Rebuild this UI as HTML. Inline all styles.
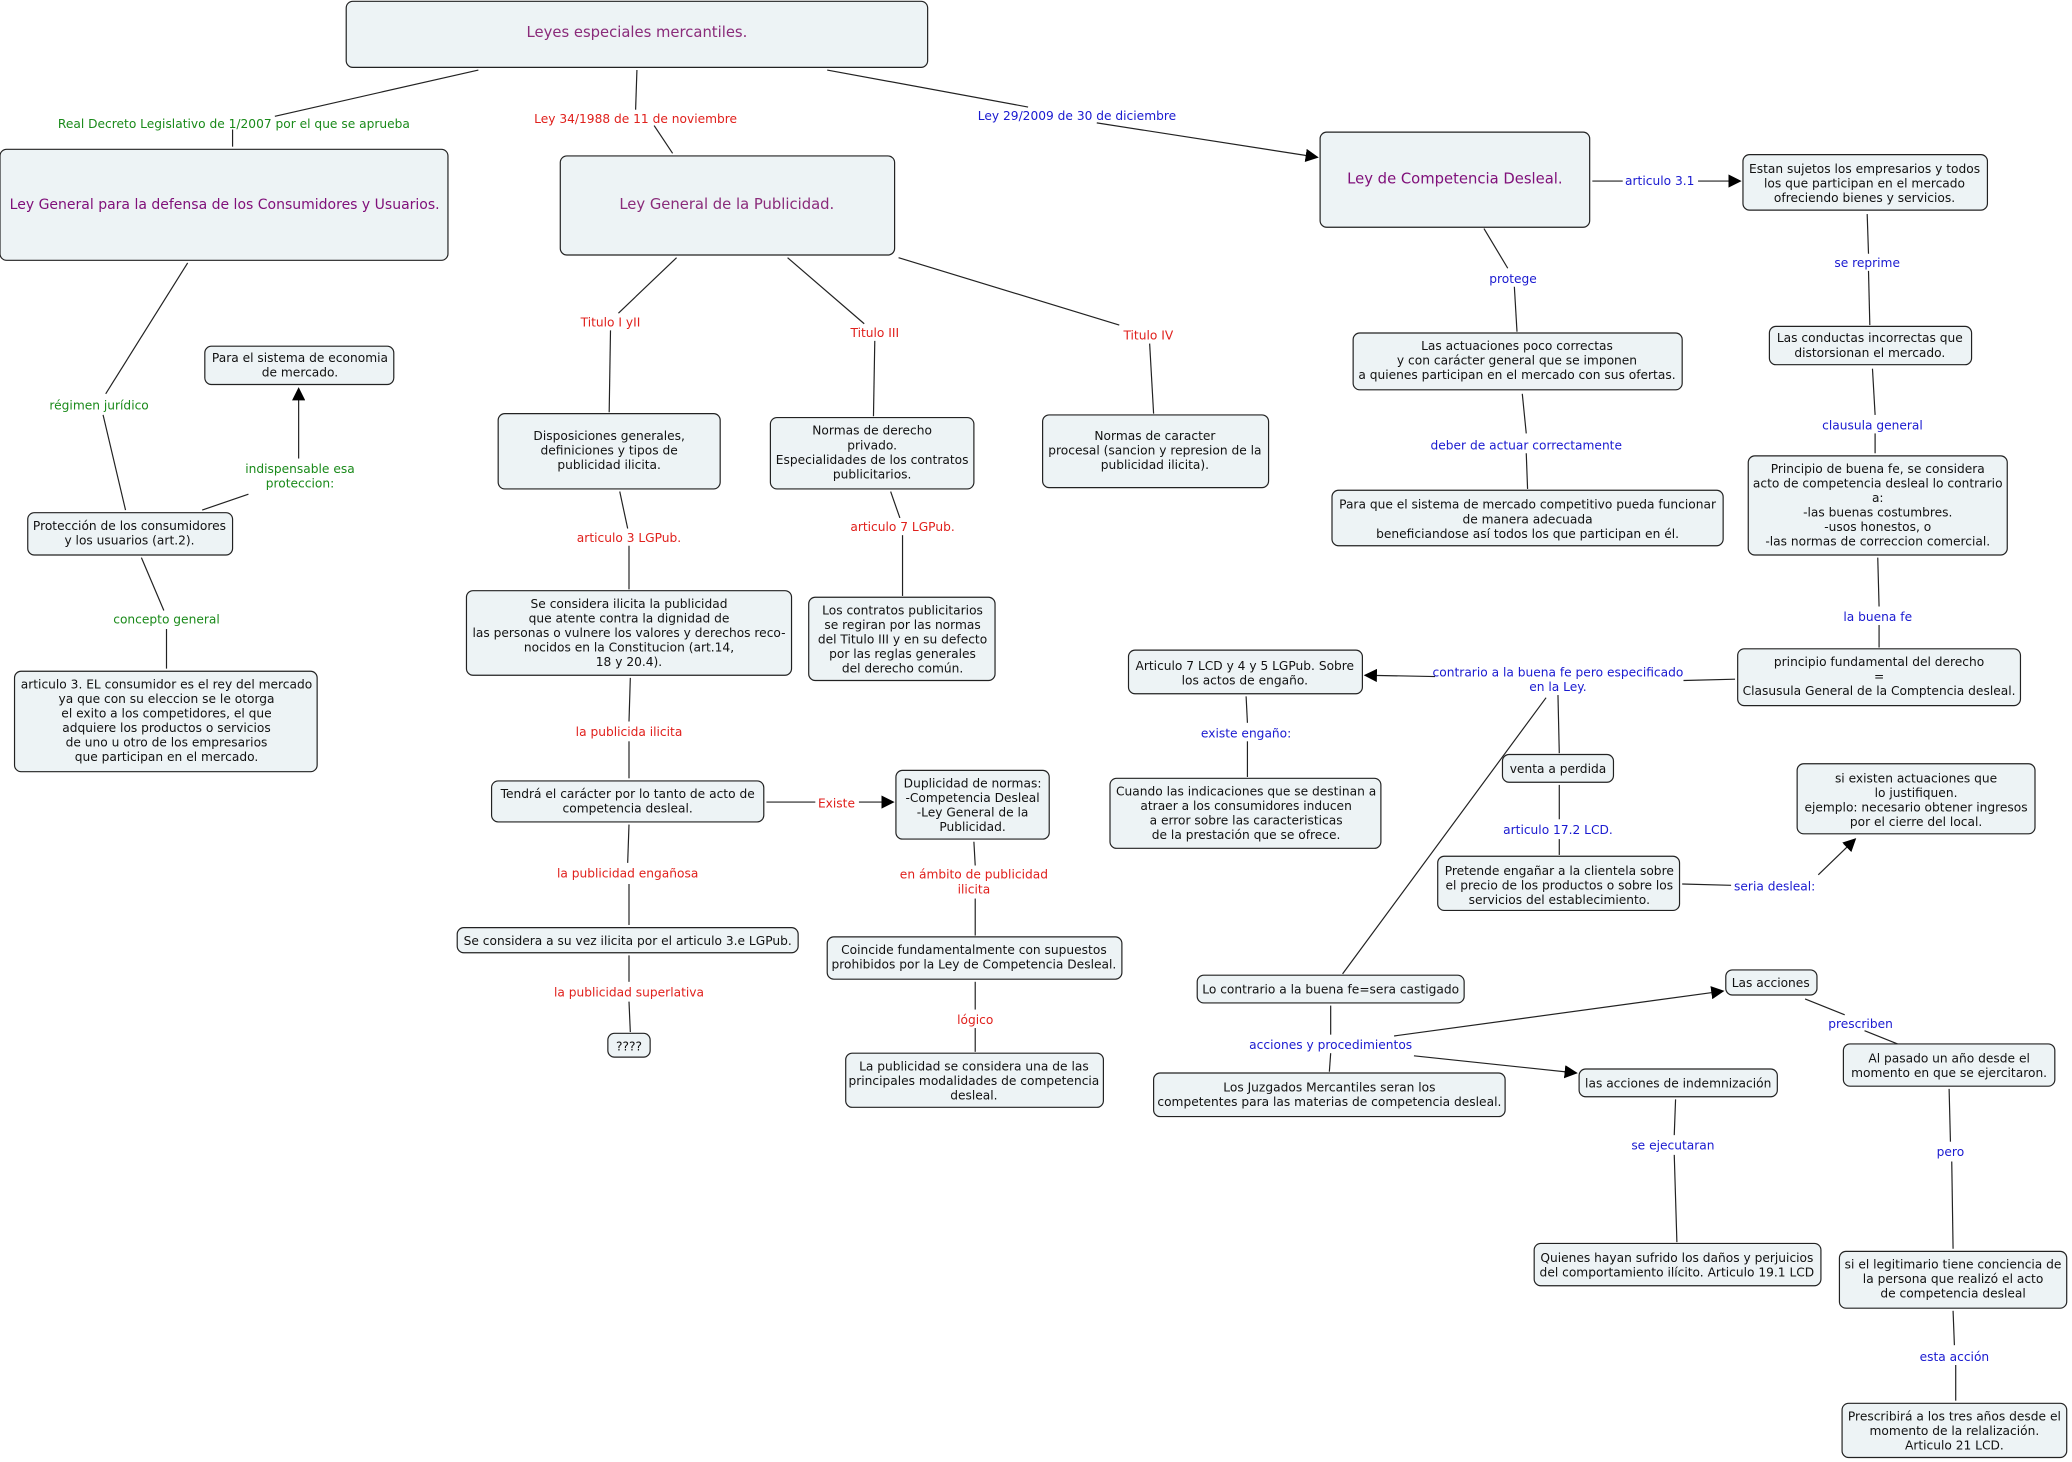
<!DOCTYPE html>
<html><head><meta charset="utf-8"><style>
html,body{margin:0;padding:0;background:#fff;}
svg{display:block}
.n{fill:#edf3f5;stroke:#222;stroke-width:0.9}
.t{font-family:"DejaVu Sans","Liberation Sans",sans-serif;font-size:9.25px;fill:#111;text-anchor:middle}
.g{font-family:"DejaVu Sans","Liberation Sans",sans-serif;font-size:9.25px;fill:#1a8a1a;text-anchor:middle}
.r{font-family:"DejaVu Sans","Liberation Sans",sans-serif;font-size:9.25px;fill:#e0201c;text-anchor:middle}
.b{font-family:"DejaVu Sans","Liberation Sans",sans-serif;font-size:9.25px;fill:#1a1ad0;text-anchor:middle}
.h{font-family:"DejaVu Sans","Liberation Sans",sans-serif;font-size:11.2px;fill:#8a2b7a;text-anchor:middle}
line{stroke:#222;stroke-width:0.9}
</style></head><body>
<svg width="2072" height="1462" viewBox="0 0 1568 1106.4" preserveAspectRatio="none" xmlns="http://www.w3.org/2000/svg">
<defs><marker id="a" markerWidth="10" markerHeight="10" refX="9" refY="5" orient="auto" markerUnits="userSpaceOnUse"><path d="M0,0 L10,5 L0,10 z" fill="#000"/></marker></defs>
<!-- lines -->
<line x1="362" y1="53" x2="208" y2="88"/><line x1="176" y1="98" x2="176" y2="111"/>
<line x1="482" y1="53" x2="481" y2="83"/><line x1="495" y1="95" x2="509" y2="116"/>
<line x1="626" y1="53" x2="778" y2="81"/><line x1="830" y1="93" x2="997" y2="119" marker-end="url(#a)"/>
<line x1="142" y1="199" x2="80" y2="298"/><line x1="78" y1="314" x2="95" y2="386"/>
<line x1="153" y1="386" x2="188" y2="374"/><line x1="226" y1="347" x2="226" y2="294" marker-end="url(#a)"/>
<line x1="107" y1="422" x2="124" y2="462"/><line x1="126" y1="476" x2="126" y2="506"/>
<line x1="512" y1="195" x2="468" y2="237"/><line x1="462" y1="250" x2="461" y2="312"/>
<line x1="596" y1="195" x2="654" y2="245"/><line x1="662" y1="258" x2="661" y2="315"/>
<line x1="680" y1="195" x2="847" y2="246"/><line x1="870" y1="260" x2="873" y2="313"/>
<line x1="469" y1="372" x2="475" y2="400"/><line x1="476" y1="413" x2="476" y2="446"/>
<line x1="674" y1="372" x2="681" y2="392"/><line x1="683" y1="405" x2="683" y2="451"/>
<line x1="477" y1="513" x2="476" y2="546"/><line x1="476" y1="561" x2="476" y2="589"/>
<line x1="580" y1="607" x2="617" y2="607"/><line x1="650" y1="607" x2="676" y2="607" marker-end="url(#a)"/>
<line x1="476" y1="624" x2="475" y2="653"/><line x1="476" y1="669" x2="476" y2="700"/>
<line x1="476" y1="723" x2="476" y2="743"/><line x1="476" y1="758" x2="477" y2="781"/>
<line x1="737" y1="637" x2="738" y2="655"/><line x1="738" y1="680" x2="738" y2="708"/>
<line x1="738" y1="743" x2="738" y2="764"/><line x1="738" y1="778" x2="738" y2="796"/>
<line x1="1205" y1="137" x2="1228" y2="137"/><line x1="1285" y1="137" x2="1317" y2="137" marker-end="url(#a)"/>
<line x1="1123" y1="173" x2="1141" y2="203"/><line x1="1146" y1="217" x2="1148" y2="251"/>
<line x1="1413" y1="162" x2="1414" y2="192"/><line x1="1414" y1="205" x2="1415" y2="246"/>
<line x1="1152" y1="298" x2="1155" y2="328"/><line x1="1155" y1="343" x2="1156" y2="370"/>
<line x1="1417" y1="279" x2="1419" y2="314"/><line x1="1419" y1="328" x2="1419" y2="343"/>
<line x1="1421" y1="422" x2="1422" y2="459"/><line x1="1422" y1="473" x2="1422" y2="490"/>
<line x1="1313" y1="514" x2="1274" y2="515"/><line x1="1086" y1="512" x2="1033" y2="511" marker-end="url(#a)"/>
<line x1="1179" y1="526" x2="1180" y2="570"/>
<line x1="1170" y1="528" x2="1016" y2="737"/>
<line x1="943" y1="527" x2="944" y2="547"/><line x1="944" y1="561" x2="944" y2="588"/>
<line x1="1180" y1="594" x2="1180" y2="620"/><line x1="1180" y1="635" x2="1180" y2="647"/>
<line x1="1273" y1="669" x2="1310" y2="670"/><line x1="1376" y1="662" x2="1404" y2="635" marker-end="url(#a)"/>
<line x1="1007" y1="761" x2="1007" y2="783"/><line x1="1007" y1="797" x2="1006" y2="811"/>
<line x1="1055" y1="784" x2="1304" y2="750" marker-end="url(#a)"/>
<line x1="1070" y1="799" x2="1193" y2="812" marker-end="url(#a)"/>
<line x1="1366" y1="756" x2="1396" y2="768"/><line x1="1411" y1="780" x2="1436" y2="790"/>
<line x1="1475" y1="824" x2="1476" y2="864"/><line x1="1477" y1="879" x2="1478" y2="945"/>
<line x1="1268" y1="832" x2="1267" y2="859"/><line x1="1267" y1="874" x2="1269" y2="940"/>
<line x1="1478" y1="992" x2="1479" y2="1018"/><line x1="1480" y1="1033" x2="1480" y2="1060"/>

<!-- nodes -->
<rect class="n" x="262" y="1" width="440" height="50" rx="5"/><text class="h" x="482" y="28">Leyes especiales mercantiles.</text>
<rect class="n" x="0" y="113" width="339" height="84" rx="5"/><text class="h" x="170" y="158" style="fill:#80107a;font-size:10.6px">Ley General para la defensa de los Consumidores y Usuarios.</text>
<rect class="n" x="424" y="118" width="253" height="75" rx="5"/><text class="h" x="550" y="158">Ley General de la Publicidad.</text>
<rect class="n" x="999" y="100" width="204" height="72" rx="5"/><text class="h" x="1101" y="139" style="fill:#80107a">Ley de Competencia Desleal.</text>

<rect class="n" x="1319" y="117" width="185" height="42" rx="5"/><text class="t" x="1411" y="131">Estan sujetos los empresarios y todos<tspan x="1411" dy="11">los que participan en el mercado</tspan><tspan x="1411" dy="11">ofreciendo bienes y servicios.</tspan></text>
<rect class="n" x="1339" y="247" width="153" height="29" rx="5"/><text class="t" x="1415" y="259">Las conductas incorrectas que<tspan x="1415" dy="11">distorsionan el mercado.</tspan></text>
<rect class="n" x="1323" y="345" width="196" height="75" rx="5"/><text class="t" x="1421" y="358">Principio de buena fe, se considera<tspan x="1421" dy="11">acto de competencia desleal lo contrario</tspan><tspan x="1421" dy="11">a:</tspan><tspan x="1421" dy="11">-las buenas costumbres.</tspan><tspan x="1421" dy="11">-usos honestos, o</tspan><tspan x="1421" dy="11">-las normas de correccion comercial.</tspan></text>
<rect class="n" x="1315" y="491" width="214" height="43" rx="5"/><text class="t" x="1422" y="504">principio fundamental del derecho<tspan x="1422" dy="11">=</tspan><tspan x="1422" dy="11">Clasusula General de la Comptencia desleal.</tspan></text>
<rect class="n" x="854" y="492" width="177" height="33" rx="5"/><text class="t" x="942" y="507">Articulo 7 LCD y 4 y 5 LGPub. Sobre<tspan x="942" dy="11">los actos de engaño.</tspan></text>
<rect class="n" x="840" y="589" width="205" height="53" rx="5"/><text class="t" x="943" y="602">Cuando las indicaciones que se destinan a<tspan x="943" dy="11">atraer a los consumidores inducen</tspan><tspan x="943" dy="11">a error sobre las caracteristicas</tspan><tspan x="943" dy="11">de la prestación que se ofrece.</tspan></text>
<rect class="n" x="1137" y="571" width="84" height="21" rx="5"/><text class="t" x="1179" y="585">venta a perdida</text>
<rect class="n" x="1360" y="578" width="180" height="53" rx="5"/><text class="t" x="1450" y="592">si existen actuaciones que<tspan x="1450" dy="11">lo justifiquen.</tspan><tspan x="1450" dy="11">ejemplo: necesario obtener ingresos</tspan><tspan x="1450" dy="11">por el cierre del local.</tspan></text>
<rect class="n" x="1088" y="648" width="183" height="41" rx="5"/><text class="t" x="1180" y="662">Pretende engañar a la clientela sobre<tspan x="1180" dy="11">el precio de los productos o sobre los</tspan><tspan x="1180" dy="11">servicios del establecimiento.</tspan></text>
<rect class="n" x="906" y="738" width="202" height="21" rx="5"/><text class="t" x="1007" y="752">Lo contrario a la buena fe=sera castigado</text>
<rect class="n" x="1306" y="734" width="69" height="19" rx="5"/><text class="t" x="1340" y="747">Las acciones</text>
<rect class="n" x="1395" y="790" width="160" height="32" rx="5"/><text class="t" x="1475" y="804">Al pasado un año desde el<tspan x="1475" dy="11">momento en que se ejercitaron.</tspan></text>
<rect class="n" x="873" y="812" width="266" height="33" rx="5"/><text class="t" x="1006" y="826">Los Juzgados Mercantiles seran los<tspan x="1006" dy="11">competentes para las materias de competencia desleal.</tspan></text>
<rect class="n" x="1195" y="809" width="150" height="21" rx="5"/><text class="t" x="1270" y="823">las acciones de indemnización</text>
<rect class="n" x="1161" y="941" width="217" height="32" rx="5"/><text class="t" x="1269" y="955">Quienes hayan sufrido los daños y perjuicios<tspan x="1269" dy="11">del comportamiento ilícito. Articulo 19.1 LCD</tspan></text>
<rect class="n" x="1392" y="947" width="172" height="43" rx="5"/><text class="t" x="1478" y="960">si el legitimario tiene conciencia de<tspan x="1478" dy="11">la persona que realizó el acto</tspan><tspan x="1478" dy="11">de competencia desleal</tspan></text>
<rect class="n" x="1394" y="1062" width="170" height="41" rx="5"/><text class="t" x="1479" y="1075">Prescribirá a los tres años desde el<tspan x="1479" dy="11">momento de la relalización.</tspan><tspan x="1479" dy="11">Articulo 21 LCD.</tspan></text>
<rect class="n" x="1024" y="252" width="249" height="43" rx="5"/><text class="t" x="1148" y="265">Las actuaciones poco correctas<tspan x="1148" dy="11">y con carácter general que se imponen</tspan><tspan x="1148" dy="11">a quienes participan en el mercado con sus ofertas.</tspan></text>
<rect class="n" x="1008" y="371" width="296" height="42" rx="5"/><text class="t" x="1156" y="385">Para que el sistema de mercado competitivo pueda funcionar<tspan x="1156" dy="11">de manera adecuada</tspan><tspan x="1156" dy="11">beneficiandose así todos los que participan en él.</tspan></text>
<rect class="n" x="789" y="314" width="171" height="55" rx="5"/><text class="t" x="874" y="333">Normas de caracter<tspan x="874" dy="11">procesal (sancion y represion de la</tspan><tspan x="874" dy="11">publicidad ilicita).</tspan></text>
<rect class="n" x="155" y="262" width="143" height="29" rx="5"/><text class="t" x="227" y="274">Para el sistema de economia<tspan x="227" dy="11">de mercado.</tspan></text>
<rect class="n" x="21" y="388" width="155" height="32" rx="5"/><text class="t" x="98" y="401">Protección de los consumidores<tspan x="98" dy="11">y los usuarios (art.2).</tspan></text>
<rect class="n" x="11" y="508" width="229" height="76" rx="5"/><text class="t" x="126" y="521">articulo 3. EL consumidor es el rey del mercado<tspan x="126" dy="11">ya que con su eleccion se le otorga</tspan><tspan x="126" dy="11">el exito a los competidores, el que</tspan><tspan x="126" dy="11">adquiere los productos o servicios</tspan><tspan x="126" dy="11">de uno u otro de los empresarios</tspan><tspan x="126" dy="11">que participan en el mercado.</tspan></text>
<rect class="n" x="377" y="313" width="168" height="57" rx="5"/><text class="t" x="461" y="333">Disposiciones generales,<tspan x="461" dy="11">definiciones y tipos de</tspan><tspan x="461" dy="11">publicidad ilicita.</tspan></text>
<rect class="n" x="583" y="316" width="154" height="54" rx="5"/><text class="t" x="660" y="329">Normas de derecho<tspan x="660" dy="11">privado.</tspan><tspan x="660" dy="11">Especialidades de los contratos</tspan><tspan x="660" dy="11">publicitarios.</tspan></text>
<rect class="n" x="353" y="447" width="246" height="64" rx="5"/><text class="t" x="476" y="460">Se considera ilicita la publicidad<tspan x="476" dy="11">que atente contra la dignidad de</tspan><tspan x="476" dy="11">las personas o vulnere los valores y derechos reco-</tspan><tspan x="476" dy="11">nocidos en la Constitucion (art.14,</tspan><tspan x="476" dy="11">18 y 20.4).</tspan></text>
<rect class="n" x="612" y="452" width="141" height="63" rx="5"/><text class="t" x="683" y="465">Los contratos publicitarios<tspan x="683" dy="11">se regiran por las normas</tspan><tspan x="683" dy="11">del Titulo III y en su defecto</tspan><tspan x="683" dy="11">por las reglas generales</tspan><tspan x="683" dy="11">del derecho común.</tspan></text>
<rect class="n" x="372" y="591" width="206" height="31" rx="5"/><text class="t" x="475" y="604">Tendrá el carácter por lo tanto de acto de<tspan x="475" dy="11">competencia desleal.</tspan></text>
<rect class="n" x="678" y="583" width="116" height="52" rx="5"/><text class="t" x="736" y="596">Duplicidad de normas:<tspan x="736" dy="11">-Competencia Desleal</tspan><tspan x="736" dy="11">-Ley General de la</tspan><tspan x="736" dy="11">Publicidad.</tspan></text>
<rect class="n" x="346" y="702" width="258" height="19" rx="5"/><text class="t" x="475" y="715">Se considera a su vez ilicita por el articulo 3.e LGPub.</text>
<rect class="n" x="460" y="782" width="32" height="18" rx="5"/><text class="t" x="476" y="795">????</text>
<rect class="n" x="626" y="709" width="223" height="32" rx="5"/><text class="t" x="737" y="722">Coincide fundamentalmente con supuestos<tspan x="737" dy="11">prohibidos por la Ley de Competencia Desleal.</tspan></text>
<rect class="n" x="640" y="797" width="195" height="41" rx="5"/><text class="t" x="737" y="810">La publicidad  se considera una de las<tspan x="737" dy="11">principales modalidades de competencia</tspan><tspan x="737" dy="11">desleal.</tspan></text>

<!-- labels -->
<text class="g" x="177" y="97">Real Decreto Legislativo de 1/2007 por el que se aprueba</text>
<text class="g" x="75" y="310">régimen jurídico</text>
<text class="g" x="227" y="358">indispensable esa<tspan x="227" dy="11">proteccion:</tspan></text>
<text class="g" x="126" y="472">concepto general</text>
<text class="r" x="481" y="93">Ley 34/1988 de 11 de noviembre</text>
<text class="r" x="462" y="247">Titulo I yII</text>
<text class="r" x="662" y="255">Titulo III</text>
<text class="r" x="869" y="257">Titulo IV</text>
<text class="r" x="476" y="410">articulo 3 LGPub.</text>
<text class="r" x="683" y="402">articulo 7 LGPub.</text>
<text class="r" x="476" y="557">la publicida ilicita</text>
<text class="r" x="633" y="611">Existe</text>
<text class="r" x="475" y="664">la publicidad engañosa</text>
<text class="r" x="737" y="665">en ámbito de publicidad<tspan x="737" dy="11">ilicita</tspan></text>
<text class="r" x="476" y="754">la publicidad superlativa</text>
<text class="r" x="738" y="775">lógico</text>
<text class="b" x="815" y="91">Ley 29/2009 de 30 de diciembre</text>
<text class="b" x="1256" y="140">articulo 3.1</text>
<text class="b" x="1145" y="214">protege</text>
<text class="b" x="1413" y="202">se reprime</text>
<text class="b" x="1155" y="340">deber de actuar correctamente</text>
<text class="b" x="1417" y="325">clausula general</text>
<text class="b" x="1421" y="470">la buena fe</text>
<text class="b" x="1179" y="512">contrario a la buena fe pero especificado<tspan x="1179" dy="11">en la Ley.</tspan></text>
<text class="b" x="943" y="558">existe engaño:</text>
<text class="b" x="1179" y="631">articulo 17.2 LCD.</text>
<text class="b" x="1343" y="674">seria desleal:</text>
<text class="b" x="1007" y="794">acciones y procedimientos</text>
<text class="b" x="1408" y="778">prescriben</text>
<text class="b" x="1266" y="870">se ejecutaran</text>
<text class="b" x="1476" y="875">pero</text>
<text class="b" x="1479" y="1030">esta acción</text>
</svg>
</body></html>
